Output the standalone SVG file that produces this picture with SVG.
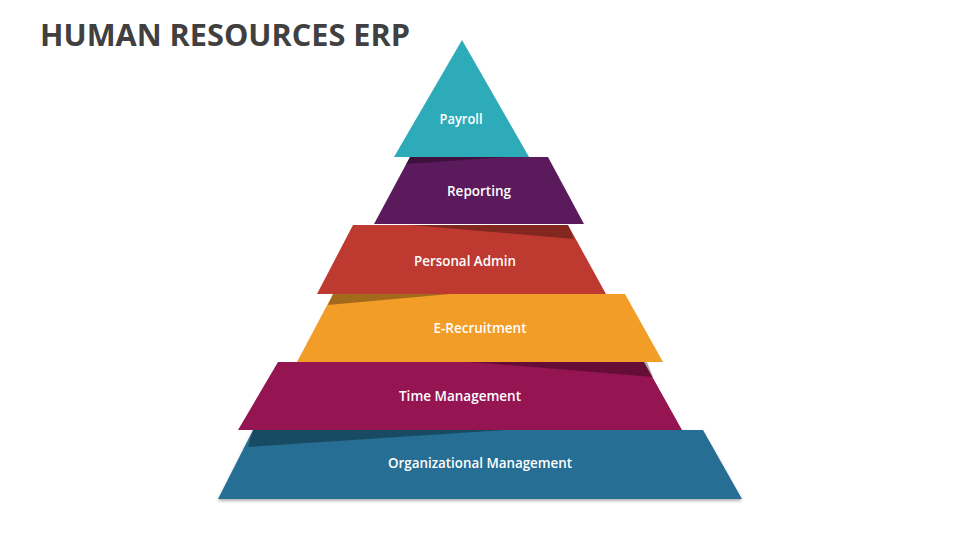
<svg xmlns="http://www.w3.org/2000/svg" width="960" height="540" viewBox="0 0 960 540">
<defs>
<style>
.lbl{font-family:"Open Sans","Liberation Sans",sans-serif;font-size:14px;font-weight:600;fill:#ffffff;text-anchor:middle;dominant-baseline:central}
.shd{fill:#000000;fill-opacity:0.32}
</style>
<filter id="ds" x="-5%" y="-5%" width="110%" height="120%">
<feDropShadow dx="0" dy="2" stdDeviation="1.5" flood-color="#000" flood-opacity="0.3"/>
</filter>
</defs>
<rect width="960" height="540" fill="#ffffff"/>
<text x="40" y="46" font-family="'Open Sans','Liberation Sans',sans-serif" font-size="30" font-weight="700" fill="#404040" textLength="370" lengthAdjust="spacingAndGlyphs">HUMAN RESOURCES ERP</text>
<g id="org">
<polygon points="253,430 703,430 742,499 218,499" fill="#276E93" filter="url(#ds)"/>
<polygon class="shd" points="253,430 505,430 248,447"/>
<text class="lbl" x="480" y="462" textLength="184" lengthAdjust="spacingAndGlyphs">Organizational Management</text>
</g>
<g id="time">
<polygon points="278,362 644,362 682,430 238,430" fill="#951452"/>
<polygon class="shd" points="470,362 647,362 653,377"/>
<text class="lbl" x="460" y="395" textLength="122" lengthAdjust="spacingAndGlyphs">Time Management</text>
</g>
<g id="erec">
<polygon points="333,294 625,294 663,362 297,362" fill="#F29D28"/>
<polygon class="shd" points="333,294 450,294 328,305"/>
<text class="lbl" x="480" y="327" textLength="93" lengthAdjust="spacingAndGlyphs">E-Recruitment</text>
</g>
<g id="padmin">
<polygon points="353,225 568,225 606,294 317,294" fill="#BE3A30"/>
<polygon class="shd" points="410,225 568,225 574,239"/>
<text class="lbl" x="465" y="260" textLength="102" lengthAdjust="spacingAndGlyphs">Personal Admin</text>
</g>
<g id="reporting">
<polygon points="410,157 548,157 584,224 374,224" fill="#5B1A5B"/>
<polygon class="shd" points="410,157 507,157 406,164"/>
<text class="lbl" x="479" y="190" textLength="64" lengthAdjust="spacingAndGlyphs">Reporting</text>
</g>
<g id="payroll">
<polygon points="462,40 529,157 394,157" fill="#2EABB8"/>
<text class="lbl" x="461" y="118" textLength="43" lengthAdjust="spacingAndGlyphs">Payroll</text>
</g>
<g id="connectors"></g>
</svg>
